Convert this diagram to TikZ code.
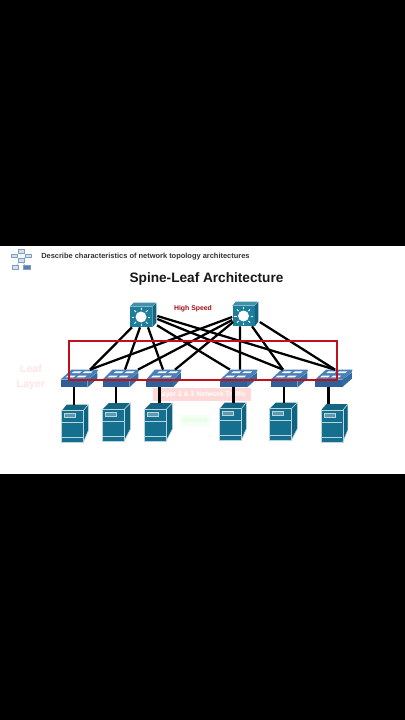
\documentclass[tikz,border=0pt]{standalone}
\usepackage{fontspec}
\setmainfont{Liberation Sans}
\usetikzlibrary{arrows.meta, positioning, calc}
\definecolor{teal1}{HTML}{15708F}
\definecolor{teal2}{HTML}{1E7F9C}
\definecolor{teal3}{HTML}{0F6482}
\definecolor{blue1}{HTML}{2F5F97}
\definecolor{blue2}{HTML}{4A80B8}
\definecolor{blue3}{HTML}{2F6AA0}
\definecolor{frame1}{HTML}{C0101E}
\tikzset{
  spine/.style={fill=teal2, inner sep=0, minimum width=0.55cm, minimum height=0.5cm},
  leaf/.style={fill=blue1, inner sep=0, minimum width=0.66cm, minimum height=0.18cm},
  server/.style={fill=teal1, inner sep=0, minimum width=0.525cm, minimum height=0.775cm},
  arr/.style={black, line width=1.6pt},
  drop/.style={black, line width=1.8pt},
  trim/.style={draw=white!70!teal1, line width=0.4pt},
  tiny/.style={draw=blue1!60!white, fill=blue2!25!white, line width=0.2pt, inner sep=0, minimum width=0.16cm, minimum height=0.09cm},
}
\begin{document}
\begin{tikzpicture}[x=0.025cm, y=-0.025cm]
    \useasboundingbox (0,0) rectangle (405,720);
    \fill[black] (0,0) rectangle (405,720);
    \fill[white] (0,246) rectangle (405,474);
    % headings
    \node[font=\bfseries\fontsize{5.3}{6}\selectfont, text=black!80, anchor=west, inner sep=0] (topic) at (41,257) {Describe characteristics of network topology architectures};
    \node[font=\bfseries\fontsize{9.7}{12}\selectfont, text=black!90, inner sep=0] (title) at (206.5,278.5) {Spine-Leaf Architecture};
    \node[font=\bfseries\fontsize{4.9}{6}\selectfont, text=frame1!85!black, inner sep=0] (speed) at (193,309) {High Speed};
    \node[font=\bfseries\fontsize{7.6}{10.6}\selectfont, text=red!10!white, align=center, inner sep=0] (leaflabel) at (31,377.5) {Leaf\\Layer};
    \node[fill=red!15!white, text=white, font=\bfseries\fontsize{4.9}{6}\selectfont, minimum width=2.45cm, minimum height=0.33cm, inner sep=0] (traffic) at (202,394.5) {Layer 2 \& 3 Network Traffic};
    \node[fill=green!4!white, text=green!15!white, font=\bfseries\fontsize{4.9}{6}\selectfont, minimum width=0.75cm, minimum height=0.3cm, inner sep=0] (serverlabel) at (195,420.5) {Servers};
    % corner icon
    \node[tiny] (iconhub) at (21,260) {};
    \node[tiny] (icontop) at (21,251) {};
    \node[tiny] (iconleft) at (14,255.5) {};
    \node[tiny] (iconright) at (28,255.5) {};
    \node[tiny] (iconlow) at (15,267) {};
    \node[tiny, fill=blue1!80!white] (iconpc) at (26.5,267) {};
    \draw[blue1!60!white, line width=0.2pt] (iconhub) -- (icontop) (iconhub) -- (iconleft) (iconhub) -- (iconright) (iconhub) -- (iconlow) (iconhub) -- (iconpc);
    % spines
    \foreach \name/\xa/\ya/\dx in {spineA/141/317/4, spineB/243.5/316/3.5}{
      \node[spine] (\name) at (\xa,\ya) {};
      \fill[teal3] (\name.north east) -- ++(\dx,-4) -- ++(0,20) -- (\name.south east) -- cycle;
      \fill[teal2!85!white] (\name.north west) -- ++(\dx,-4) -- ++(22,0) -- (\name.north east) -- cycle;
      \fill[white] (\name.center) circle (5.5);
      \foreach \ang in {0,45,...,315}
        \draw[white, line width=0.6pt] (\name.center) ++(\ang:7) -- ++(\ang:2.2);
    }
    % leaves
    \foreach \name/\xa/\back in {leafA/74/10, leafB/116/9, leafC/159.5/8, leafD/233.5/10, leafE/284/10, leafF/328.5/10}{
      \node[leaf] (\name) at (\xa,383.5) {};
      \fill[blue3] (\name.north east) -- ++(\back,-7) -- ++(0,6) -- (\name.south east) -- cycle;
      \fill[blue2] (\name.north west) -- ++(\back+1,-10) -- ++(26.5,0) -- ++(-1,3) -- (\name.north east) -- cycle;
      \foreach \px/\py in {5/-2.2, 16/-2.2, 11/-6.4, 22/-6.4}
        \fill[white] ($(\name.north west)+(\px,\py)$) -- ++(8,0) -- ++(2.2,-1.8) -- ++(-8,0) -- cycle;
    }
    % servers
    \foreach \name/\xa/\ya/\dx in {srvA/72.5/426.5/5, srvB/113.5/425/6, srvC/155.5/425/6, srvD/230.5/424.5/5, srvE/280.5/424.5/6, srvF/332/426/5}{
      \node[server] (\name) at (\xa,\ya) {};
      \fill[teal3] (\name.north east) -- ++(\dx,-6) -- ++(0,26) -- (\name.south east) -- cycle;
      \fill[teal1!90!black] (\name.north west) -- ++(\dx,-6) -- ++(21,0) -- (\name.north east) -- cycle;
      \draw[trim] (\name.north west) -- (\name.south west) -- (\name.south east) -- (\name.north east) -- cycle;
      \draw[trim] (\name.north east) -- ++(\dx,-6) -- ++(0,26) -- (\name.south east);
      \draw[trim] ($(\name.north west)+(0,12)$) -- ++(21,0);
      \draw[trim] ($(\name.south west)+(0,-5)$) -- ++(21,0);
      \draw[trim, fill=teal1!70!white] ($(\name.north west)+(3,3)$) rectangle ++(11,4);
    }
    % spine to leaf
    \foreach \from/\fx/\fy/\to/\tx in {spineA.south/-9/0/leafA/16, spineA.south/-1/0/leafB/9,
      spineA.south/7/0/leafC/3.5, spineA.south/16/-2/leafD/-3.5, spineA.east/5/2/leafE/-1, spineA.east/5/-1/leafF/6.5,
      spineB.west/0/1/leafA/16, spineB.west/0/4/leafB/22, spineB.west/1/6/leafC/15.5,
      spineB.south/-3.5/0/leafD/6.5, spineB.south/8.5/0/leafE/-1, spineB.east/5/6/leafF/6.5}
      \draw[arr] ($(\from)+(\fx,\fy)$) -- ($(\to.north)+(\tx,-10)$);
    % leaf to server
    \foreach \from/\to in {leafA/srvA, leafB/srvB, leafC/srvC, leafD/srvD, leafE/srvE, leafF/srvF}
      \draw[drop] (\from.south) -- ($(\from.south |- \to.north)+(0,-6)$);
    % red box
    \node[draw=frame1, line width=1.9pt, minimum width=6.7cm, minimum height=0.975cm, inner sep=0] (leafframe) at (203,360.5) {};
\end{tikzpicture}
\end{document}
